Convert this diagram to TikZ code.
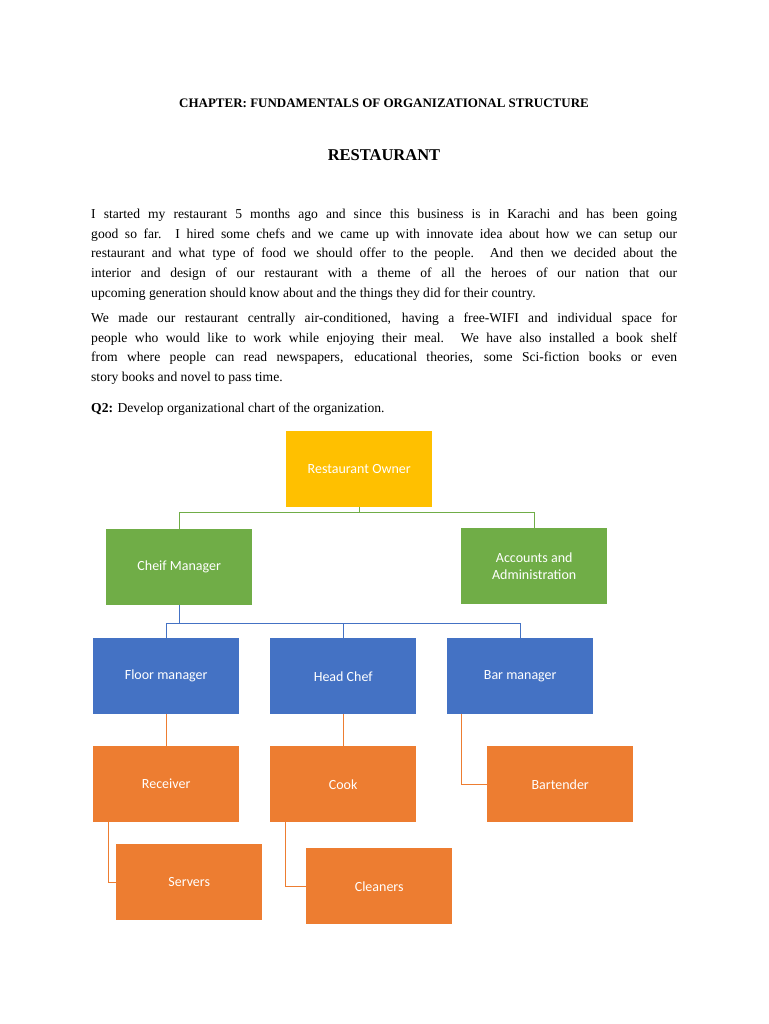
\documentclass[tikz,border=0pt]{standalone}
\usepackage{fontspec}
\setmainfont{Liberation Serif}
\newfontfamily\boxfont{Carlito}
\definecolor{cyel}{HTML}{FFC000}
\definecolor{cgrn}{HTML}{70AD47}
\definecolor{cblu}{HTML}{4472C4}
\definecolor{cora}{HTML}{ED7D31}
\begin{document}
\begin{tikzpicture}[x=1pt,y=-1pt,
  bx/.style={minimum width=146pt,minimum height=76pt,inner sep=0pt,text=white,font=\boxfont\fontsize{14}{17}\selectfont,align=center,anchor=north west},
  para/.style={anchor=north west,text width=586pt,inner sep=0pt,align=justify,font=\fontsize{13.6}{19.6}\selectfont}]
\useasboundingbox (0,0) rectangle (768,1024);
\node[font=\bfseries\fontsize{13}{15}\selectfont] (t1) at (384,103) {CHAPTER: FUNDAMENTALS OF ORGANIZATIONAL STRUCTURE};
\node[font=\bfseries\fontsize{16.5}{19}\selectfont] (t2) at (384,155) {RESTAURANT};
\node[para] (p1) at (91,209) {I started my restaurant 5 months ago and since this business is in Karachi and has been going\linebreak good so far. I hired some chefs and we came up with innovate idea about how we can setup our\linebreak restaurant and what type of food we should offer to the people. And then we decided about the\linebreak interior and design of our restaurant with a theme of all the heroes of our nation that our\linebreak upcoming generation should know about and the things they did for their country.};
\node[para] (p2) at (91,313) {We made our restaurant centrally air-conditioned, having a free-WIFI and individual space for\linebreak people who would like to work while enjoying their meal. We have also installed a book shelf\linebreak from where people can read newspapers, educational theories, some Sci-fiction books or even\linebreak story books and novel to pass time.};
\node[anchor=north west,inner sep=0pt,font=\fontsize{13.6}{16}\selectfont] (q) at (91,403) {\textbf{Q2:} Develop organizational chart of the organization.};

\node[bx,fill=cyel] (own) at (286,431) {Restaurant Owner};
\node[bx,fill=cgrn] (chf) at (106,529) {Cheif Manager};
\node[bx,fill=cgrn] (acc) at (461,528) {Accounts and\\Administration};
\node[bx,fill=cblu] (flr) at (93,638) {Floor manager};
\node[bx,fill=cblu] (hd) at (270,638) {Head Chef};
\node[bx,fill=cblu] (bar) at (447,638) {Bar manager};
\node[bx,fill=cora] (rec) at (93,746) {Receiver};
\node[bx,fill=cora] (cook) at (270,746) {Cook};
\node[bx,fill=cora] (bt) at (487,746) {Bartender};
\node[bx,fill=cora] (srv) at (116,844) {Servers};
\node[bx,fill=cora] (cln) at (306,848) {Cleaners};

\draw[cgrn,line width=1pt] (own.south) -- ++(0,5) -| (chf.north);
\draw[cgrn,line width=1pt] (own.south) ++(0,5) -| (acc.north);
\draw[cblu,line width=1pt] (chf.south) -- ++(0,18) -| (flr.north);
\draw[cblu,line width=1pt] (chf.south) ++(0,18) -| (hd.north);
\draw[cblu,line width=1pt] (chf.south) ++(0,18) -| (bar.north);
\draw[cora,line width=1pt] (flr.south) -- (rec.north);
\draw[cora,line width=1pt] (hd.south) -- (cook.north);
\draw[cora,line width=1pt] ([xshift=14pt]bar.south west) |- (bt.west);
\draw[cora,line width=1pt] ([xshift=15pt]rec.south west) |- (srv.west);
\draw[cora,line width=1pt] ([xshift=15pt]cook.south west) |- (cln.west);
\end{tikzpicture}
\end{document}
